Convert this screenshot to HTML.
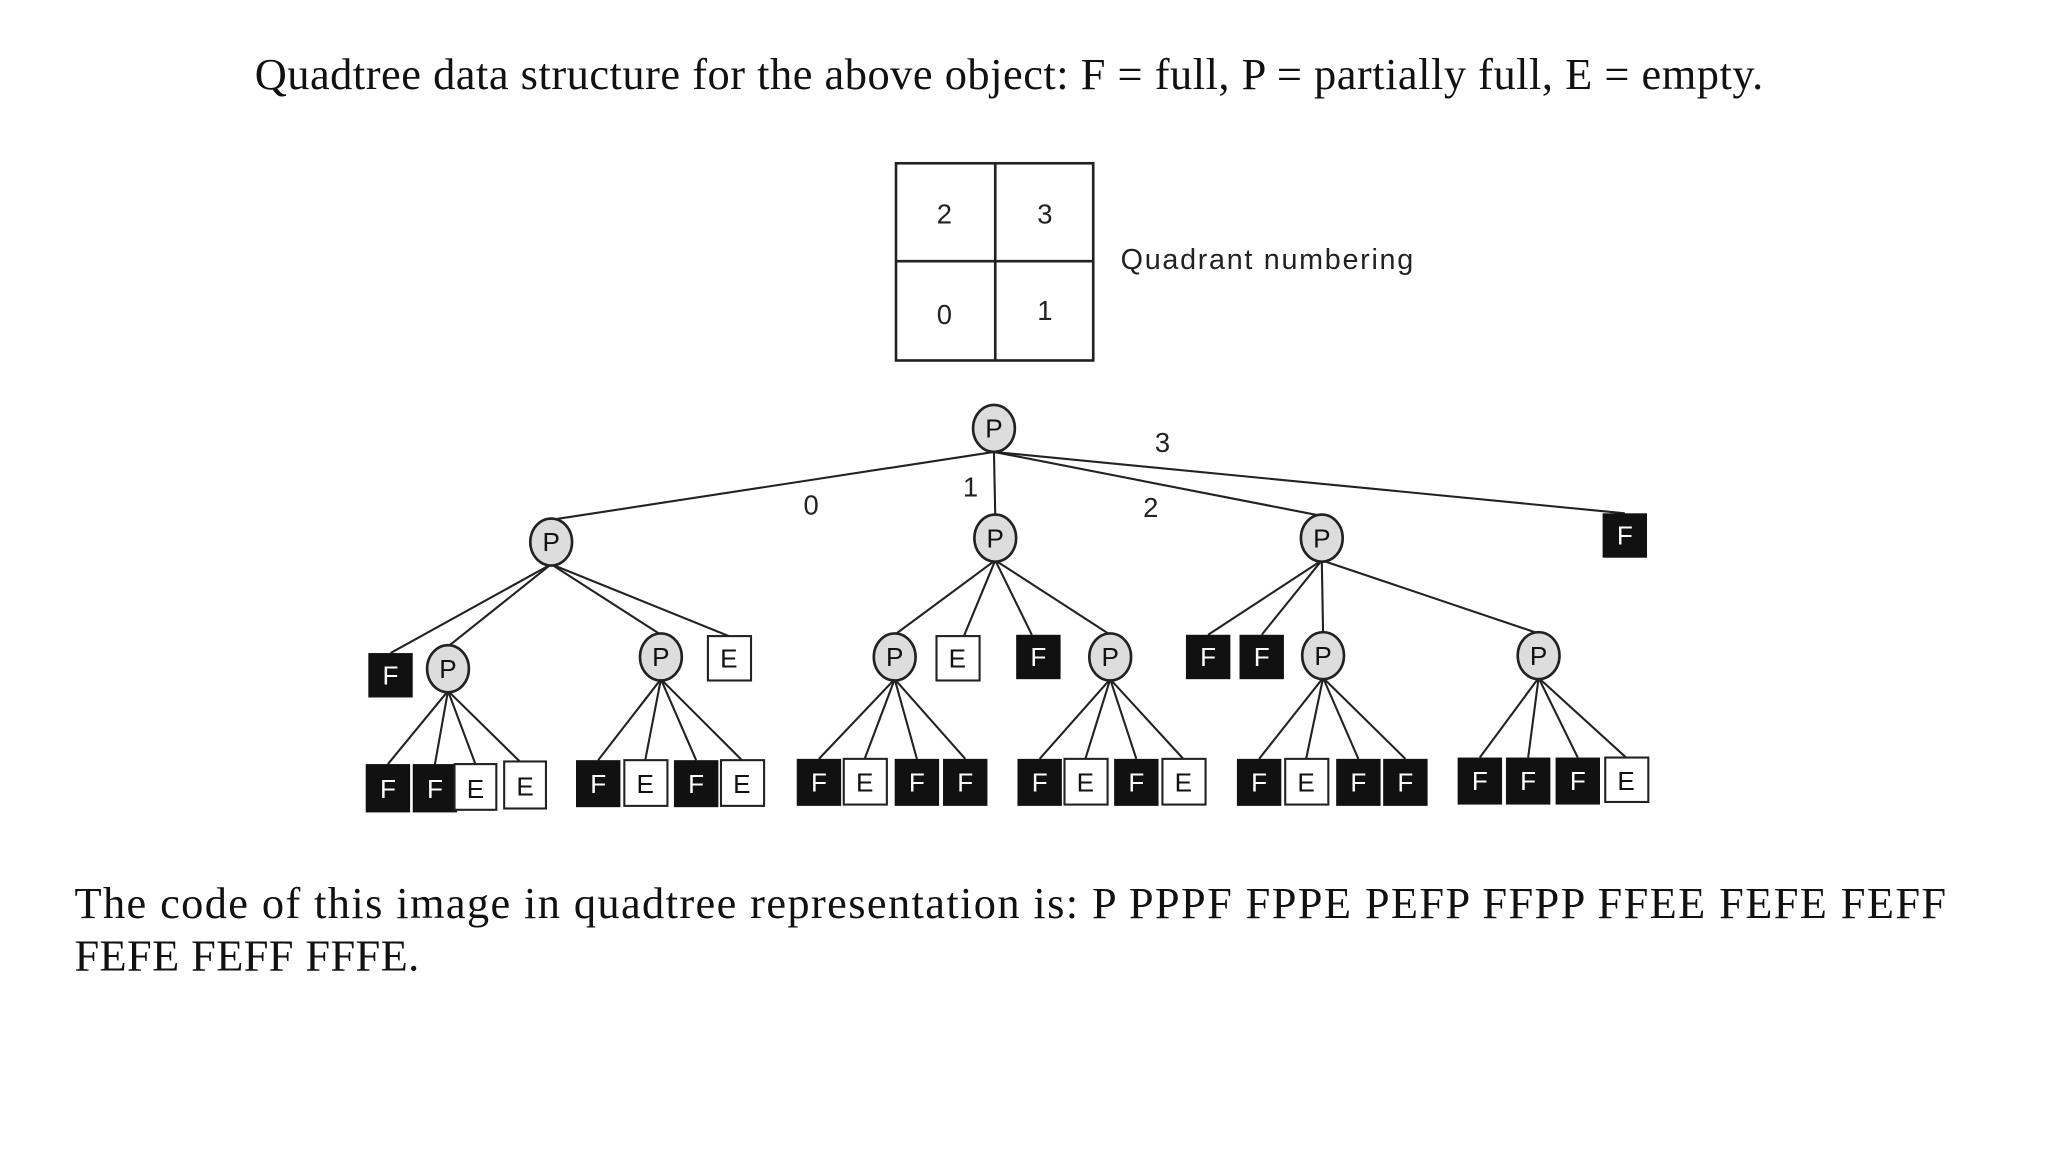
<!DOCTYPE html>
<html><head><meta charset="utf-8"><style>html,body{margin:0;padding:0;background:#fff}svg{display:block}</style></head><body>
<svg width="2048" height="1152" viewBox="0 0 1568 882" xmlns="http://www.w3.org/2000/svg">
<rect width="1568" height="882" fill="#fff"/>
<text x="195" y="68" font-family="Liberation Serif, serif" font-size="34" textLength="1155" fill="#111">Quadtree data structure for the above object: F = full, P = partially full, E = empty.</text>
<g stroke="#222" stroke-width="2" fill="none">
<rect x="686" y="125" width="151" height="151"/>
<line x1="762" y1="125" x2="762" y2="276"/><line x1="686" y1="200" x2="837" y2="200"/>
</g>
<g font-family="Liberation Sans, sans-serif" font-size="21" fill="#222" text-anchor="middle">
<text x="723" y="171">2</text><text x="800" y="171">3</text><text x="723" y="248">0</text><text x="800" y="245">1</text>
<text x="621" y="394">0</text><text x="743" y="380">1</text><text x="881" y="396">2</text><text x="890" y="346">3</text>
</g>
<text x="858" y="206" font-family="Liberation Sans, sans-serif" font-size="22" fill="#222" textLength="224">Quadrant numbering</text>
<g stroke="#222" stroke-width="1.6">
<line x1="761" y1="346" x2="422" y2="398"/><line x1="761" y1="346" x2="762" y2="395"/><line x1="761" y1="346" x2="1012" y2="395"/><line x1="761" y1="346" x2="1244" y2="393"/>
<line x1="422" y1="432" x2="299" y2="500"/><line x1="422" y1="432" x2="343" y2="495"/><line x1="422" y1="432" x2="506" y2="486"/><line x1="422" y1="432" x2="558" y2="487"/>
<line x1="762" y1="429" x2="685" y2="486"/><line x1="762" y1="429" x2="738" y2="487"/><line x1="762" y1="429" x2="790" y2="486"/><line x1="762" y1="429" x2="850" y2="486"/>
<line x1="1012" y1="429" x2="925" y2="486"/><line x1="1012" y1="429" x2="966" y2="486"/><line x1="1012" y1="429" x2="1013" y2="485"/><line x1="1012" y1="429" x2="1178" y2="485"/>
<line x1="343" y1="529" x2="297" y2="585"/><line x1="343" y1="529" x2="333" y2="585"/><line x1="343" y1="529" x2="364" y2="585"/><line x1="343" y1="529" x2="400" y2="585"/>
<line x1="506" y1="520" x2="458" y2="582"/><line x1="506" y1="520" x2="494" y2="582"/><line x1="506" y1="520" x2="533" y2="582"/><line x1="506" y1="520" x2="568" y2="582"/>
<line x1="685" y1="520" x2="627" y2="581"/><line x1="685" y1="520" x2="662" y2="581"/><line x1="685" y1="520" x2="702" y2="581"/><line x1="685" y1="520" x2="739" y2="581"/>
<line x1="850" y1="520" x2="796" y2="581"/><line x1="850" y1="520" x2="831" y2="581"/><line x1="850" y1="520" x2="870" y2="581"/><line x1="850" y1="520" x2="906" y2="581"/>
<line x1="1013" y1="519" x2="964" y2="581"/><line x1="1013" y1="519" x2="1000" y2="581"/><line x1="1013" y1="519" x2="1040" y2="581"/><line x1="1013" y1="519" x2="1076" y2="581"/>
<line x1="1178" y1="519" x2="1133" y2="580"/><line x1="1178" y1="519" x2="1170" y2="580"/><line x1="1178" y1="519" x2="1208" y2="580"/><line x1="1178" y1="519" x2="1245" y2="580"/>
</g>
<g stroke="#222" stroke-width="2" fill="#ddd">
<ellipse cx="761" cy="328" rx="16" ry="18"/><ellipse cx="422" cy="415" rx="16" ry="18"/><ellipse cx="762" cy="412" rx="16" ry="18"/><ellipse cx="1012" cy="412" rx="16" ry="18"/>
<ellipse cx="343" cy="512" rx="16" ry="18"/><ellipse cx="506" cy="503" rx="16" ry="18"/><ellipse cx="685" cy="503" rx="16" ry="18"/><ellipse cx="850" cy="503" rx="16" ry="18"/><ellipse cx="1013" cy="502" rx="16" ry="18"/><ellipse cx="1178" cy="502" rx="16" ry="18"/>
</g>
<g font-family="Liberation Sans, sans-serif" font-size="20" fill="#111" text-anchor="middle">
<text x="761" y="335">P</text><text x="422" y="422">P</text><text x="762" y="419">P</text><text x="1012" y="419">P</text>
<text x="343" y="519">P</text><text x="506" y="510">P</text><text x="685" y="510">P</text><text x="850" y="510">P</text><text x="1013" y="509">P</text><text x="1178" y="509">P</text>
</g>
<g font-family="Liberation Sans, sans-serif" font-size="20" text-anchor="middle" stroke-width="1.6">
<rect x="1227" y="393" width="34" height="34" fill="#111"/><text x="1244" y="417" fill="#fff">F</text>
<rect x="282" y="500" width="34" height="34" fill="#111"/><text x="299" y="524" fill="#fff">F</text>
<rect x="542" y="487" width="33" height="34" fill="#fff" stroke="#222"/><text x="558" y="511" fill="#111">E</text>
<rect x="717" y="487" width="33" height="34" fill="#fff" stroke="#222"/><text x="733" y="511" fill="#111">E</text>
<rect x="778" y="486" width="34" height="34" fill="#111"/><text x="795" y="510" fill="#fff">F</text>
<rect x="908" y="486" width="34" height="34" fill="#111"/><text x="925" y="510" fill="#fff">F</text>
<rect x="949" y="486" width="34" height="34" fill="#111"/><text x="966" y="510" fill="#fff">F</text>
</g>
<g font-family="Liberation Sans, sans-serif" font-size="20" text-anchor="middle" stroke-width="1.6">
<rect x="280" y="585" width="34" height="37" fill="#111"/><text x="297" y="611" fill="#fff">F</text>
<rect x="316" y="585" width="34" height="37" fill="#111"/><text x="333" y="611" fill="#fff">F</text>
<rect x="348" y="585" width="32" height="35" fill="#fff" stroke="#222"/><text x="364" y="611" fill="#111">E</text>
<rect x="386" y="583" width="32" height="36" fill="#fff" stroke="#222"/><text x="402" y="609" fill="#111">E</text>
</g>
<g font-family="Liberation Sans, sans-serif" font-size="20" text-anchor="middle" stroke-width="1.6">
<rect x="441" y="582" width="34" height="36" fill="#111"/><text x="458" y="607" fill="#fff">F</text>
<rect x="478" y="582" width="33" height="35" fill="#fff" stroke="#222"/><text x="494" y="607" fill="#111">E</text>
<rect x="516" y="582" width="34" height="36" fill="#111"/><text x="533" y="607" fill="#fff">F</text>
<rect x="552" y="582" width="33" height="35" fill="#fff" stroke="#222"/><text x="568" y="607" fill="#111">E</text>
<rect x="610" y="581" width="34" height="36" fill="#111"/><text x="627" y="606" fill="#fff">F</text>
<rect x="646" y="581" width="33" height="35" fill="#fff" stroke="#222"/><text x="662" y="606" fill="#111">E</text>
<rect x="685" y="581" width="34" height="36" fill="#111"/><text x="702" y="606" fill="#fff">F</text>
<rect x="722" y="581" width="34" height="36" fill="#111"/><text x="739" y="606" fill="#fff">F</text>
<rect x="779" y="581" width="34" height="36" fill="#111"/><text x="796" y="606" fill="#fff">F</text>
<rect x="815" y="581" width="33" height="35" fill="#fff" stroke="#222"/><text x="831" y="606" fill="#111">E</text>
<rect x="853" y="581" width="34" height="36" fill="#111"/><text x="870" y="606" fill="#fff">F</text>
<rect x="890" y="581" width="33" height="35" fill="#fff" stroke="#222"/><text x="906" y="606" fill="#111">E</text>
<rect x="947" y="581" width="34" height="36" fill="#111"/><text x="964" y="606" fill="#fff">F</text>
<rect x="984" y="581" width="33" height="35" fill="#fff" stroke="#222"/><text x="1000" y="606" fill="#111">E</text>
<rect x="1023" y="581" width="34" height="36" fill="#111"/><text x="1040" y="606" fill="#fff">F</text>
<rect x="1059" y="581" width="34" height="36" fill="#111"/><text x="1076" y="606" fill="#fff">F</text>
<rect x="1116" y="580" width="34" height="36" fill="#111"/><text x="1133" y="605" fill="#fff">F</text>
<rect x="1153" y="580" width="34" height="36" fill="#111"/><text x="1170" y="605" fill="#fff">F</text>
<rect x="1191" y="580" width="34" height="36" fill="#111"/><text x="1208" y="605" fill="#fff">F</text>
<rect x="1229" y="580" width="33" height="34" fill="#fff" stroke="#222"/><text x="1245" y="605" fill="#111">E</text>
</g>
<g font-family="Liberation Serif, serif" font-size="34" fill="#111">
<text x="57" y="703" textLength="1433">The code of this image in quadtree representation is: P PPPF FPPE PEFP FFPP FFEE FEFE FEFF</text>
<text x="57" y="743" textLength="264">FEFE FEFF FFFE.</text>
</g>
</svg>
</body></html>
